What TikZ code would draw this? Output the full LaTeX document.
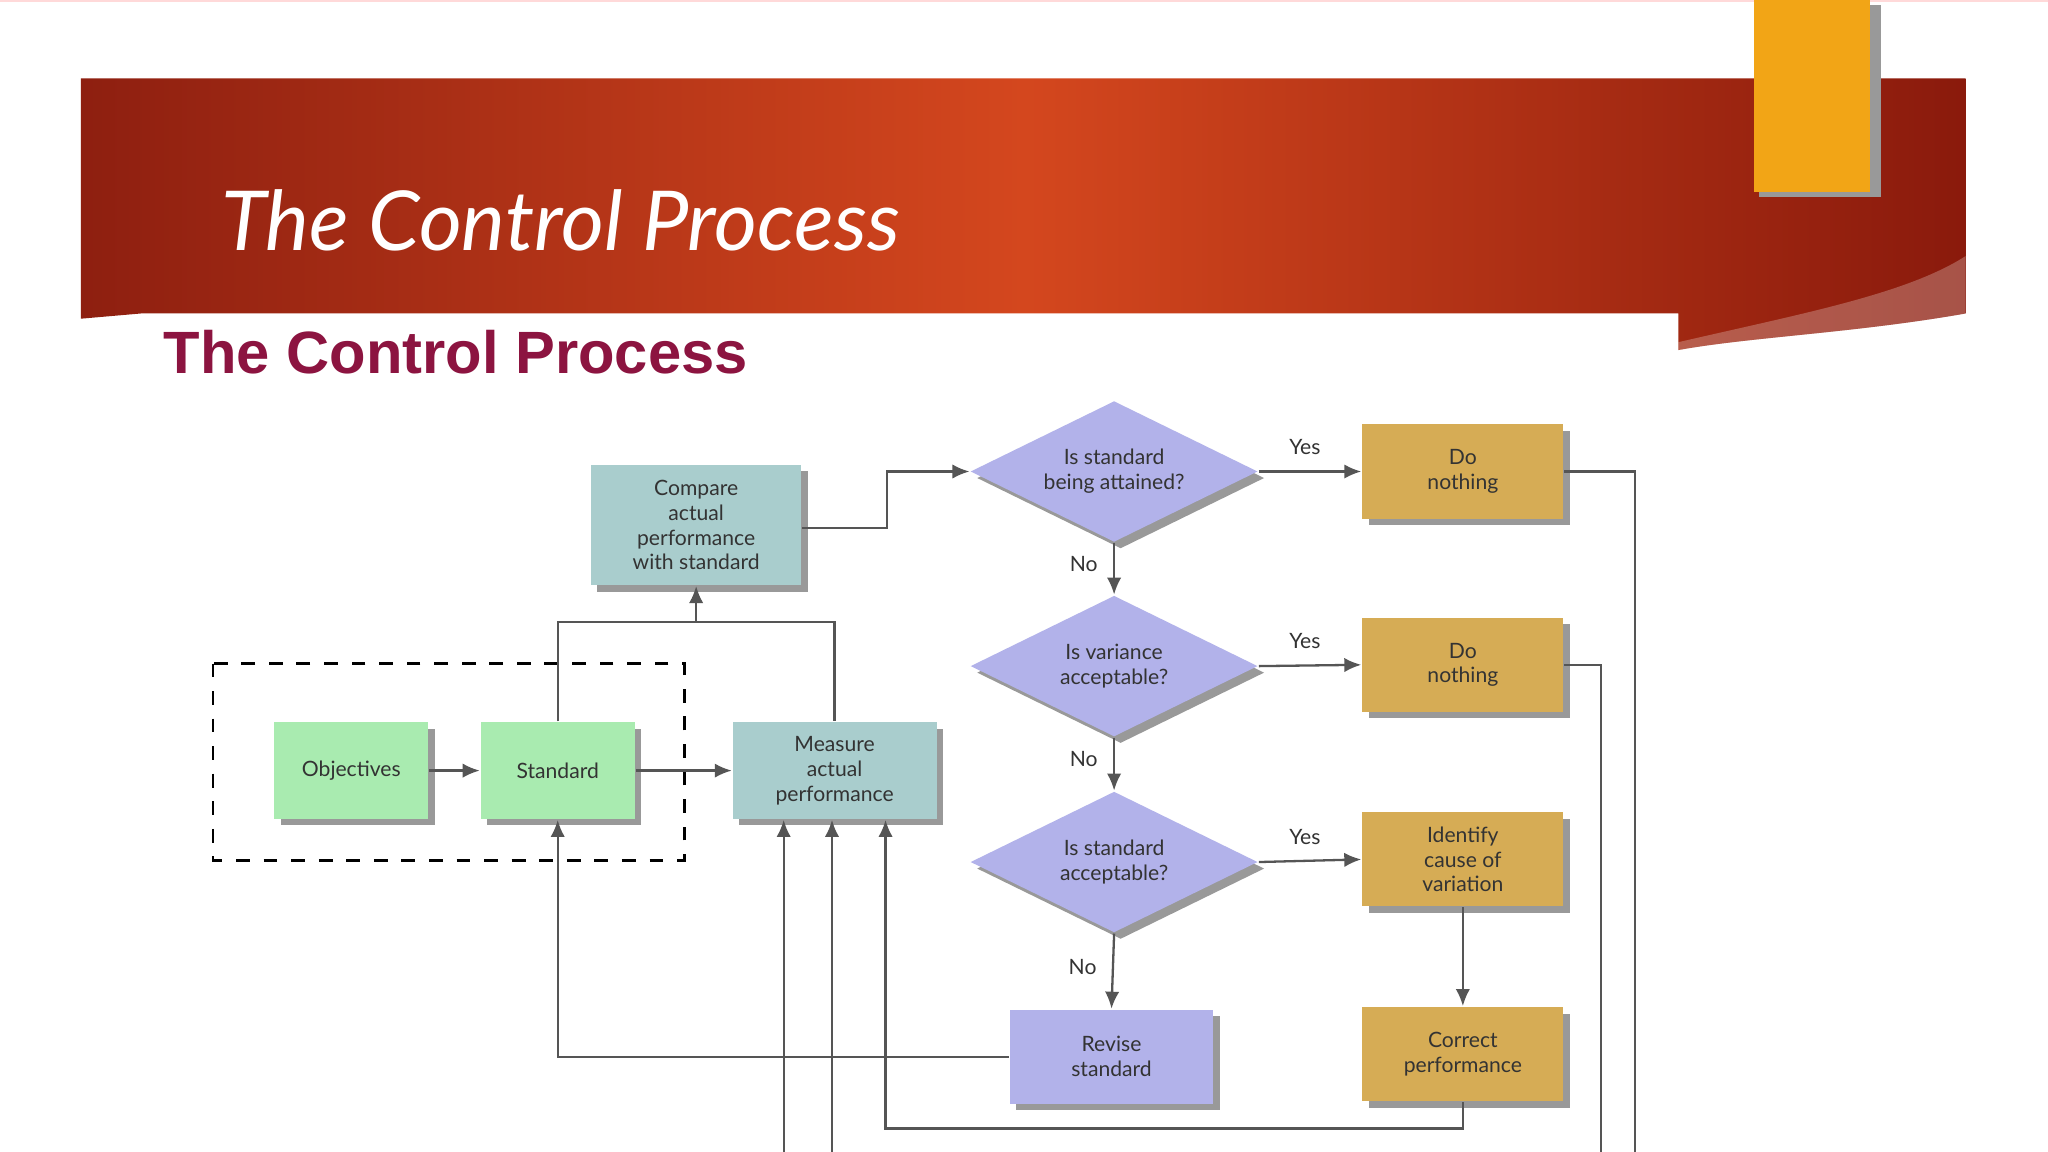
\documentclass[tikz,border=0pt]{standalone}
\usepackage{fontspec}
\setmainfont{Lato}
\newfontfamily\subfont{Liberation Sans}
\usetikzlibrary{shapes.geometric,shadows,arrows.meta}
\definecolor{bnL}{HTML}{8E1F10}
\definecolor{bnM}{HTML}{D4471E}
\definecolor{bnR}{HTML}{8A1A0C}
\definecolor{orng}{HTML}{F2A516}
\definecolor{grn}{HTML}{A9EBB0}
\definecolor{teal}{HTML}{A9CDCD}
\definecolor{lav}{HTML}{B2B2EA}
\definecolor{gold}{HTML}{D6AC55}
\definecolor{sub}{HTML}{8C1440}
\definecolor{ln}{HTML}{555555}
\tikzset{
  shd/.style={drop shadow={shadow xshift=0.05cm,shadow yshift=-0.05cm,fill=black!40,opacity=1}},
  bx/.style={shd,rectangle,inner sep=0pt,align=center,font=\fontsize{4.6}{5.4}\selectfont,text=black!80},
  dm/.style={shd,diamond,fill=lav,inner sep=0pt,minimum width=2.2cm,minimum height=1.08cm,shape aspect=2.04},
  dtxt/.style={align=center,font=\fontsize{4.6}{5.4}\selectfont,text=black!80},
  lbl/.style={font=\fontsize{4.6}{5.4}\selectfont,text=black!80},
  con/.style={draw=ln,line width=0.5pt},
  arr/.style={con,-{Latex[length=1.3mm,width=1.1mm]}}
}
\begin{document}
\begin{tikzpicture}[x=0.01cm,y=-0.01cm]
\useasboundingbox (0,0) rectangle (1568,882);
\fill[white] (0,0) rectangle (1568,882);
\draw[red!15] (0,1) -- (1568,1);
% banner
\shade[left color=bnL,right color=bnR,middle color=bnM]
  (62,60) -- (1505,60) -- (1505,240) .. controls (1420,255) and (1340,258) .. (1285,268) -- (1285,240) -- (108,240) -- (62,244) -- cycle;
\fill[white,opacity=0.25] (1285,262) .. controls (1380,240) and (1460,225) .. (1505,196) -- (1505,240) .. controls (1420,255) and (1340,258) .. (1285,268) -- cycle;
\fill[black!40] (1347,4) rectangle (1440,151);
\fill[orng] (1343,0) rectangle (1432,147);
\node[anchor=base west,text=white,font=\fontsize{18}{20}\selectfont\itshape\addfontfeature{}] (ttl) at (157,192) {The Control Process};
\node[anchor=west,text=sub,font=\subfont\bfseries\fontsize{13}{15}\selectfont] (st) at (113,270) {The Control Process};
% dashed
\draw[dashed,line width=0.6pt] (163,508) rectangle (524,659);
% boxes
\node[bx,fill=grn,minimum width=1.18cm,minimum height=0.74cm] (obj) at (269,590) {Objectives};
\node[bx,fill=grn,minimum width=1.18cm,minimum height=0.74cm] (std) at (427,590) {Standard};
\node[bx,fill=teal,minimum width=1.56cm,minimum height=0.74cm] (mes) at (639,590) {Measure\\actual\\performance};
\node[bx,fill=teal,minimum width=1.61cm,minimum height=0.92cm] (cmp) at (533,402) {Compare\\actual\\performance\\with standard};
\node[dm] (d1) at (853,361) {};
\node[dtxt] at (d1) {Is standard\\being attained?};
\node[dm] (d2) at (853,510) {};
\node[dtxt] at (d2) {Is variance\\acceptable?};
\node[dm] (d3) at (853,660) {};
\node[dtxt] at (d3) {Is standard\\acceptable?};
\node[bx,fill=lav,minimum width=1.56cm,minimum height=0.72cm] (rev) at (851,809) {Revise\\standard};
\node[bx,fill=gold,minimum width=1.54cm,minimum height=0.72cm] (dn1) at (1120,361) {Do\\nothing};
\node[bx,fill=gold,minimum width=1.54cm,minimum height=0.72cm] (dn2) at (1120,509) {Do\\nothing};
\node[bx,fill=gold,minimum width=1.54cm,minimum height=0.72cm] (idf) at (1120,658) {Identify\\cause of\\variation};
\node[bx,fill=gold,minimum width=1.54cm,minimum height=0.72cm] (cor) at (1120,807) {Correct\\performance};
% connectors
\draw[arr] (obj) -- (std);
\draw[arr] (std) -- (mes);
\coordinate (top) at (533,476);
\draw[con] (std.north) |- (top) -| (mes.north);
\draw[arr] (top) -- (cmp.south);
\coordinate (c1) at (679,404);
\draw[arr] (cmp.east |- c1) -- (c1) |- (d1.west);
\draw[arr] (d1.east) -- node[lbl,above,pos=0.45] {Yes} (dn1.west);
\draw[arr] (d2.east) -- node[lbl,above,pos=0.45] {Yes} (dn2.west);
\draw[arr] (d3.east) -- node[lbl,above,pos=0.45] {Yes} (idf.west);
\draw[arr] (d1.south) -- node[lbl,left,pos=0.4] {No} (d2.north);
\draw[arr] (d2.south) -- node[lbl,left,pos=0.4] {No} (d3.north);
\draw[arr] (d3.south) -- node[lbl,left,pos=0.45] {No} (rev.north);
\draw[arr] (idf) -- (cor);
\draw[arr] (rev.west) -| (std.south);
\coordinate (cb) at (678,864);
\draw[arr] (cor.south) |- (cb) -- (cb |- mes.south);
\coordinate (r1) at (1252,882);
\coordinate (r2) at (1226,882);
\draw[con] (dn1.east) -| (r1);
\draw[con] (dn2.east) -| (r2);
\coordinate (b1) at (600,882);
\coordinate (b2) at (637,882);
\draw[arr] (b1) -- (b1 |- mes.south);
\draw[arr] (b2) -- (b2 |- mes.south);
\end{tikzpicture}
\end{document}
